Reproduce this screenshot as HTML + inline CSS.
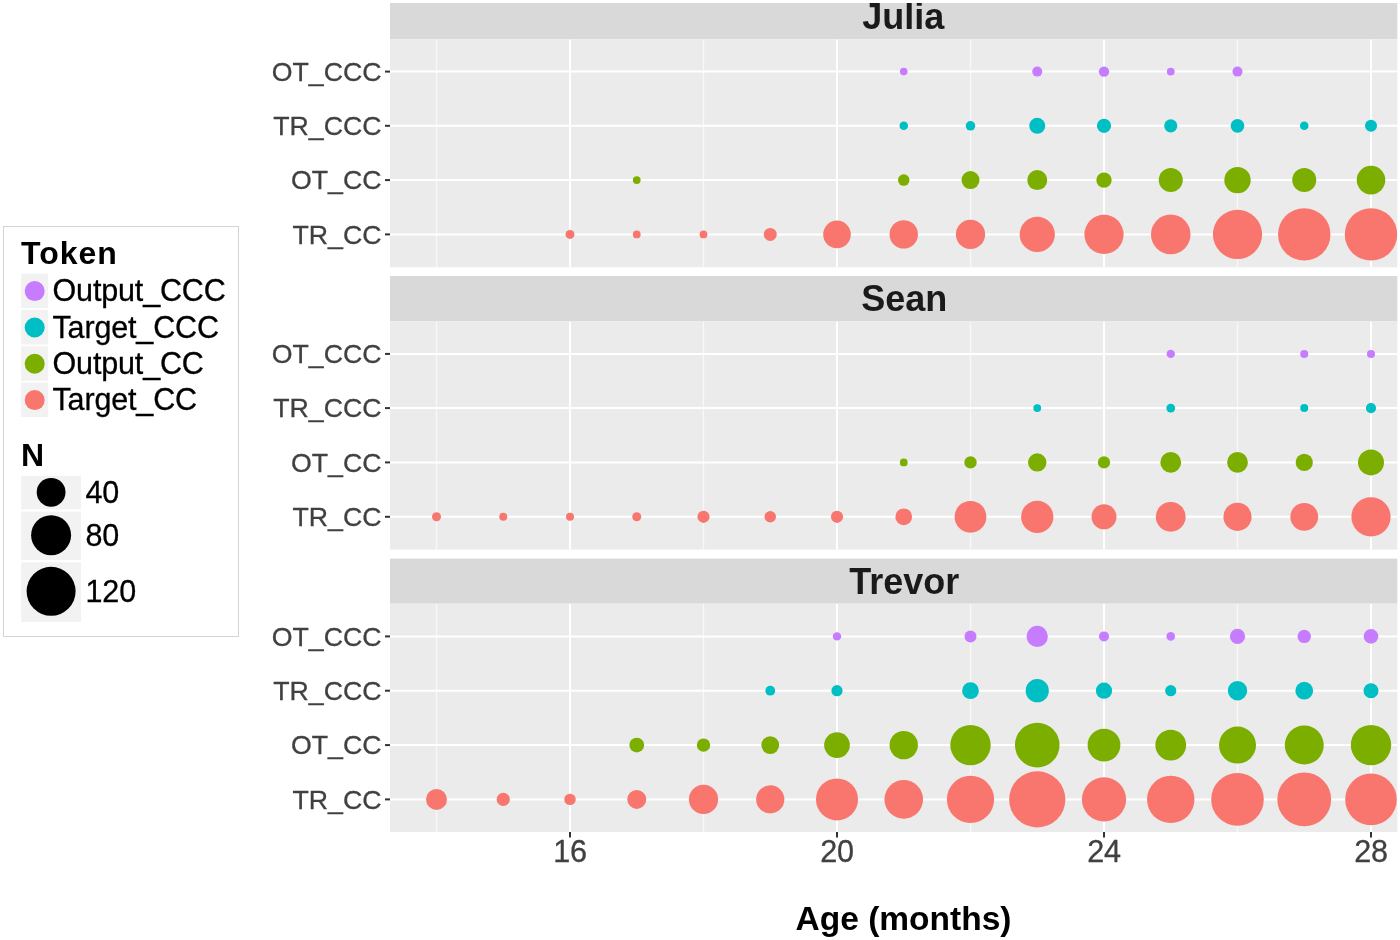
<!DOCTYPE html>
<html><head><meta charset="utf-8"><title>Plot</title>
<style>
html,body{margin:0;padding:0;background:#fff;}
body{width:1400px;height:940px;overflow:hidden;}
svg{display:block;}
text{font-family:"Liberation Sans",Arial,sans-serif;}
.strip{font-size:36px;font-weight:bold;fill:#1a1a1a;}
.ylab{font-size:26.7px;fill:#404040;stroke:#404040;stroke-width:0.3px;}
.xlab{font-size:30.6px;fill:#404040;stroke:#404040;stroke-width:0.3px;letter-spacing:-0.2px;}
.title{font-size:33.5px;font-weight:bold;fill:#000;}
.ltitle{font-size:32px;font-weight:bold;fill:#000;letter-spacing:1px;}
.leg{font-size:30.5px;fill:#000;stroke:#000;stroke-width:0.3px;letter-spacing:-0.15px;}
</style></head><body>
<svg width="1400" height="940" viewBox="0 0 1400 940">
<rect width="1400" height="940" fill="#fff"/>
<defs>
<clipPath id="cp0"><rect x="390.0" y="39.4" width="1007.3" height="227.9"/></clipPath>
<clipPath id="cs0"><rect x="390.0" y="3.0" width="1007.3" height="36.4"/></clipPath>
<clipPath id="cp1"><rect x="390.0" y="321.4" width="1007.3" height="228.2"/></clipPath>
<clipPath id="cs1"><rect x="390.0" y="276.0" width="1007.3" height="45.4"/></clipPath>
<clipPath id="cp2"><rect x="390.0" y="603.7" width="1007.3" height="228.3"/></clipPath>
<clipPath id="cs2"><rect x="390.0" y="558.6" width="1007.3" height="45.1"/></clipPath>
</defs>
<rect x="390.0" y="3.0" width="1007.3" height="36.4" fill="#D9D9D9"/>
<text class="strip" clip-path="url(#cs0)" x="903.3" y="29.4" text-anchor="middle">Julia</text>
<rect x="390.0" y="39.4" width="1007.3" height="227.9" fill="#EBEBEB"/>
<g clip-path="url(#cp0)">
<line x1="436.50" x2="436.50" y1="39.4" y2="267.3" stroke="#F8F8F8" stroke-width="1.3"/>
<line x1="703.50" x2="703.50" y1="39.4" y2="267.3" stroke="#F8F8F8" stroke-width="1.3"/>
<line x1="970.50" x2="970.50" y1="39.4" y2="267.3" stroke="#F8F8F8" stroke-width="1.3"/>
<line x1="1237.50" x2="1237.50" y1="39.4" y2="267.3" stroke="#F8F8F8" stroke-width="1.3"/>
<line x1="570.00" x2="570.00" y1="39.4" y2="267.3" stroke="#fff" stroke-width="2"/>
<line x1="837.00" x2="837.00" y1="39.4" y2="267.3" stroke="#fff" stroke-width="2"/>
<line x1="1104.00" x2="1104.00" y1="39.4" y2="267.3" stroke="#fff" stroke-width="2"/>
<line x1="1371.00" x2="1371.00" y1="39.4" y2="267.3" stroke="#fff" stroke-width="2"/>
<line x1="390.0" x2="1397.3" y1="71.6" y2="71.6" stroke="#fff" stroke-width="2"/>
<line x1="390.0" x2="1397.3" y1="125.8" y2="125.8" stroke="#fff" stroke-width="2"/>
<line x1="390.0" x2="1397.3" y1="180.1" y2="180.1" stroke="#fff" stroke-width="2"/>
<line x1="390.0" x2="1397.3" y1="234.4" y2="234.4" stroke="#fff" stroke-width="2"/>
<circle cx="903.75" cy="71.6" r="3.8" fill="#C77CFF"/>
<circle cx="1037.25" cy="71.6" r="5" fill="#C77CFF"/>
<circle cx="1104.00" cy="71.6" r="5.2" fill="#C77CFF"/>
<circle cx="1170.75" cy="71.6" r="3.9" fill="#C77CFF"/>
<circle cx="1237.50" cy="71.6" r="5" fill="#C77CFF"/>
<circle cx="903.75" cy="125.8" r="4.3" fill="#00BFC4"/>
<circle cx="970.50" cy="125.8" r="4.8" fill="#00BFC4"/>
<circle cx="1037.25" cy="125.8" r="8" fill="#00BFC4"/>
<circle cx="1104.00" cy="125.8" r="7.1" fill="#00BFC4"/>
<circle cx="1170.75" cy="125.8" r="6.6" fill="#00BFC4"/>
<circle cx="1237.50" cy="125.8" r="6.85" fill="#00BFC4"/>
<circle cx="1304.25" cy="125.8" r="4.3" fill="#00BFC4"/>
<circle cx="1371.00" cy="125.8" r="6" fill="#00BFC4"/>
<circle cx="636.75" cy="180.1" r="3.9" fill="#7CAE00"/>
<circle cx="903.75" cy="180.1" r="5.75" fill="#7CAE00"/>
<circle cx="970.50" cy="180.1" r="9" fill="#7CAE00"/>
<circle cx="1037.25" cy="180.1" r="10" fill="#7CAE00"/>
<circle cx="1104.00" cy="180.1" r="7.7" fill="#7CAE00"/>
<circle cx="1170.75" cy="180.1" r="12" fill="#7CAE00"/>
<circle cx="1237.50" cy="180.1" r="13.2" fill="#7CAE00"/>
<circle cx="1304.25" cy="180.1" r="12" fill="#7CAE00"/>
<circle cx="1371.00" cy="180.1" r="14.3" fill="#7CAE00"/>
<circle cx="570.00" cy="234.4" r="4.5" fill="#F8766D"/>
<circle cx="636.75" cy="234.4" r="3.9" fill="#F8766D"/>
<circle cx="703.50" cy="234.4" r="3.9" fill="#F8766D"/>
<circle cx="770.25" cy="234.4" r="6.5" fill="#F8766D"/>
<circle cx="837.00" cy="234.4" r="13.8" fill="#F8766D"/>
<circle cx="903.75" cy="234.4" r="14.2" fill="#F8766D"/>
<circle cx="970.50" cy="234.4" r="14.6" fill="#F8766D"/>
<circle cx="1037.25" cy="234.4" r="17.6" fill="#F8766D"/>
<circle cx="1104.00" cy="234.4" r="19.6" fill="#F8766D"/>
<circle cx="1170.75" cy="234.4" r="19.8" fill="#F8766D"/>
<circle cx="1237.50" cy="234.4" r="24.6" fill="#F8766D"/>
<circle cx="1304.25" cy="234.4" r="26.2" fill="#F8766D"/>
<circle cx="1371.00" cy="234.4" r="26.2" fill="#F8766D"/>
</g>
<line x1="385" x2="390.0" y1="71.6" y2="71.6" stroke="#333" stroke-width="2"/>
<text class="ylab" x="381.5" y="80.9" text-anchor="end">OT_CCC</text>
<line x1="385" x2="390.0" y1="125.8" y2="125.8" stroke="#333" stroke-width="2"/>
<text class="ylab" x="381.5" y="135.1" text-anchor="end">TR_CCC</text>
<line x1="385" x2="390.0" y1="180.1" y2="180.1" stroke="#333" stroke-width="2"/>
<text class="ylab" x="381.5" y="189.4" text-anchor="end">OT_CC</text>
<line x1="385" x2="390.0" y1="234.4" y2="234.4" stroke="#333" stroke-width="2"/>
<text class="ylab" x="381.5" y="243.7" text-anchor="end">TR_CC</text>
<rect x="390.0" y="276.0" width="1007.3" height="45.4" fill="#D9D9D9"/>
<text class="strip" clip-path="url(#cs1)" x="904.2" y="311.4" text-anchor="middle">Sean</text>
<rect x="390.0" y="321.4" width="1007.3" height="228.2" fill="#EBEBEB"/>
<g clip-path="url(#cp1)">
<line x1="436.50" x2="436.50" y1="321.4" y2="549.6" stroke="#F8F8F8" stroke-width="1.3"/>
<line x1="703.50" x2="703.50" y1="321.4" y2="549.6" stroke="#F8F8F8" stroke-width="1.3"/>
<line x1="970.50" x2="970.50" y1="321.4" y2="549.6" stroke="#F8F8F8" stroke-width="1.3"/>
<line x1="1237.50" x2="1237.50" y1="321.4" y2="549.6" stroke="#F8F8F8" stroke-width="1.3"/>
<line x1="570.00" x2="570.00" y1="321.4" y2="549.6" stroke="#fff" stroke-width="2"/>
<line x1="837.00" x2="837.00" y1="321.4" y2="549.6" stroke="#fff" stroke-width="2"/>
<line x1="1104.00" x2="1104.00" y1="321.4" y2="549.6" stroke="#fff" stroke-width="2"/>
<line x1="1371.00" x2="1371.00" y1="321.4" y2="549.6" stroke="#fff" stroke-width="2"/>
<line x1="390.0" x2="1397.3" y1="353.9" y2="353.9" stroke="#fff" stroke-width="2"/>
<line x1="390.0" x2="1397.3" y1="408.1" y2="408.1" stroke="#fff" stroke-width="2"/>
<line x1="390.0" x2="1397.3" y1="462.4" y2="462.4" stroke="#fff" stroke-width="2"/>
<line x1="390.0" x2="1397.3" y1="516.8" y2="516.8" stroke="#fff" stroke-width="2"/>
<circle cx="1170.75" cy="353.9" r="4.2" fill="#C77CFF"/>
<circle cx="1304.25" cy="353.9" r="4" fill="#C77CFF"/>
<circle cx="1371.00" cy="353.9" r="4" fill="#C77CFF"/>
<circle cx="1037.25" cy="408.1" r="3.9" fill="#00BFC4"/>
<circle cx="1170.75" cy="408.1" r="4.4" fill="#00BFC4"/>
<circle cx="1304.25" cy="408.1" r="4" fill="#00BFC4"/>
<circle cx="1371.00" cy="408.1" r="5.1" fill="#00BFC4"/>
<circle cx="903.75" cy="462.4" r="3.9" fill="#7CAE00"/>
<circle cx="970.50" cy="462.4" r="6.2" fill="#7CAE00"/>
<circle cx="1037.25" cy="462.4" r="9.2" fill="#7CAE00"/>
<circle cx="1104.00" cy="462.4" r="6.1" fill="#7CAE00"/>
<circle cx="1170.75" cy="462.4" r="10.4" fill="#7CAE00"/>
<circle cx="1237.50" cy="462.4" r="10.4" fill="#7CAE00"/>
<circle cx="1304.25" cy="462.4" r="8.6" fill="#7CAE00"/>
<circle cx="1371.00" cy="462.4" r="13" fill="#7CAE00"/>
<circle cx="436.50" cy="516.8" r="4.5" fill="#F8766D"/>
<circle cx="503.25" cy="516.8" r="4" fill="#F8766D"/>
<circle cx="570.00" cy="516.8" r="4" fill="#F8766D"/>
<circle cx="636.75" cy="516.8" r="4.5" fill="#F8766D"/>
<circle cx="703.50" cy="516.8" r="6.1" fill="#F8766D"/>
<circle cx="770.25" cy="516.8" r="5.75" fill="#F8766D"/>
<circle cx="837.00" cy="516.8" r="6.1" fill="#F8766D"/>
<circle cx="903.75" cy="516.8" r="8.4" fill="#F8766D"/>
<circle cx="970.50" cy="516.8" r="15.9" fill="#F8766D"/>
<circle cx="1037.25" cy="516.8" r="16.15" fill="#F8766D"/>
<circle cx="1104.00" cy="516.8" r="12.5" fill="#F8766D"/>
<circle cx="1170.75" cy="516.8" r="14.9" fill="#F8766D"/>
<circle cx="1237.50" cy="516.8" r="14.1" fill="#F8766D"/>
<circle cx="1304.25" cy="516.8" r="13.9" fill="#F8766D"/>
<circle cx="1371.00" cy="516.8" r="19.6" fill="#F8766D"/>
</g>
<line x1="385" x2="390.0" y1="353.9" y2="353.9" stroke="#333" stroke-width="2"/>
<text class="ylab" x="381.5" y="363.2" text-anchor="end">OT_CCC</text>
<line x1="385" x2="390.0" y1="408.1" y2="408.1" stroke="#333" stroke-width="2"/>
<text class="ylab" x="381.5" y="417.4" text-anchor="end">TR_CCC</text>
<line x1="385" x2="390.0" y1="462.4" y2="462.4" stroke="#333" stroke-width="2"/>
<text class="ylab" x="381.5" y="471.7" text-anchor="end">OT_CC</text>
<line x1="385" x2="390.0" y1="516.8" y2="516.8" stroke="#333" stroke-width="2"/>
<text class="ylab" x="381.5" y="526.1" text-anchor="end">TR_CC</text>
<rect x="390.0" y="558.6" width="1007.3" height="45.1" fill="#D9D9D9"/>
<text class="strip" clip-path="url(#cs2)" x="904.2" y="593.7" text-anchor="middle">Trevor</text>
<rect x="390.0" y="603.7" width="1007.3" height="228.3" fill="#EBEBEB"/>
<g clip-path="url(#cp2)">
<line x1="436.50" x2="436.50" y1="603.7" y2="832.0" stroke="#F8F8F8" stroke-width="1.3"/>
<line x1="703.50" x2="703.50" y1="603.7" y2="832.0" stroke="#F8F8F8" stroke-width="1.3"/>
<line x1="970.50" x2="970.50" y1="603.7" y2="832.0" stroke="#F8F8F8" stroke-width="1.3"/>
<line x1="1237.50" x2="1237.50" y1="603.7" y2="832.0" stroke="#F8F8F8" stroke-width="1.3"/>
<line x1="570.00" x2="570.00" y1="603.7" y2="832.0" stroke="#fff" stroke-width="2"/>
<line x1="837.00" x2="837.00" y1="603.7" y2="832.0" stroke="#fff" stroke-width="2"/>
<line x1="1104.00" x2="1104.00" y1="603.7" y2="832.0" stroke="#fff" stroke-width="2"/>
<line x1="1371.00" x2="1371.00" y1="603.7" y2="832.0" stroke="#fff" stroke-width="2"/>
<line x1="390.0" x2="1397.3" y1="636.4" y2="636.4" stroke="#fff" stroke-width="2"/>
<line x1="390.0" x2="1397.3" y1="690.7" y2="690.7" stroke="#fff" stroke-width="2"/>
<line x1="390.0" x2="1397.3" y1="745.1" y2="745.1" stroke="#fff" stroke-width="2"/>
<line x1="390.0" x2="1397.3" y1="799.4" y2="799.4" stroke="#fff" stroke-width="2"/>
<circle cx="837.00" cy="636.4" r="4.2" fill="#C77CFF"/>
<circle cx="970.50" cy="636.4" r="6" fill="#C77CFF"/>
<circle cx="1037.25" cy="636.4" r="10.6" fill="#C77CFF"/>
<circle cx="1104.00" cy="636.4" r="5" fill="#C77CFF"/>
<circle cx="1170.75" cy="636.4" r="4.3" fill="#C77CFF"/>
<circle cx="1237.50" cy="636.4" r="7.6" fill="#C77CFF"/>
<circle cx="1304.25" cy="636.4" r="6.7" fill="#C77CFF"/>
<circle cx="1371.00" cy="636.4" r="7.3" fill="#C77CFF"/>
<circle cx="770.25" cy="690.7" r="4.9" fill="#00BFC4"/>
<circle cx="837.00" cy="690.7" r="5.6" fill="#00BFC4"/>
<circle cx="970.50" cy="690.7" r="8.4" fill="#00BFC4"/>
<circle cx="1037.25" cy="690.7" r="11.6" fill="#00BFC4"/>
<circle cx="1104.00" cy="690.7" r="8.1" fill="#00BFC4"/>
<circle cx="1170.75" cy="690.7" r="5.6" fill="#00BFC4"/>
<circle cx="1237.50" cy="690.7" r="9.7" fill="#00BFC4"/>
<circle cx="1304.25" cy="690.7" r="8.9" fill="#00BFC4"/>
<circle cx="1371.00" cy="690.7" r="7.5" fill="#00BFC4"/>
<circle cx="636.75" cy="745.1" r="7.4" fill="#7CAE00"/>
<circle cx="703.50" cy="745.1" r="6.7" fill="#7CAE00"/>
<circle cx="770.25" cy="745.1" r="8.9" fill="#7CAE00"/>
<circle cx="837.00" cy="745.1" r="12.85" fill="#7CAE00"/>
<circle cx="903.75" cy="745.1" r="14.2" fill="#7CAE00"/>
<circle cx="970.50" cy="745.1" r="20.2" fill="#7CAE00"/>
<circle cx="1037.25" cy="745.1" r="22.3" fill="#7CAE00"/>
<circle cx="1104.00" cy="745.1" r="16.4" fill="#7CAE00"/>
<circle cx="1170.75" cy="745.1" r="15.4" fill="#7CAE00"/>
<circle cx="1237.50" cy="745.1" r="18.5" fill="#7CAE00"/>
<circle cx="1304.25" cy="745.1" r="19.5" fill="#7CAE00"/>
<circle cx="1371.00" cy="745.1" r="20.2" fill="#7CAE00"/>
<circle cx="436.50" cy="799.4" r="10.5" fill="#F8766D"/>
<circle cx="503.25" cy="799.4" r="6.6" fill="#F8766D"/>
<circle cx="570.00" cy="799.4" r="5.7" fill="#F8766D"/>
<circle cx="636.75" cy="799.4" r="9.5" fill="#F8766D"/>
<circle cx="703.50" cy="799.4" r="14.6" fill="#F8766D"/>
<circle cx="770.25" cy="799.4" r="14.1" fill="#F8766D"/>
<circle cx="837.00" cy="799.4" r="21" fill="#F8766D"/>
<circle cx="903.75" cy="799.4" r="19.3" fill="#F8766D"/>
<circle cx="970.50" cy="799.4" r="23.6" fill="#F8766D"/>
<circle cx="1037.25" cy="799.4" r="28.1" fill="#F8766D"/>
<circle cx="1104.00" cy="799.4" r="22.1" fill="#F8766D"/>
<circle cx="1170.75" cy="799.4" r="23.7" fill="#F8766D"/>
<circle cx="1237.50" cy="799.4" r="26.3" fill="#F8766D"/>
<circle cx="1304.25" cy="799.4" r="26.9" fill="#F8766D"/>
<circle cx="1371.00" cy="799.4" r="25.8" fill="#F8766D"/>
</g>
<line x1="385" x2="390.0" y1="636.4" y2="636.4" stroke="#333" stroke-width="2"/>
<text class="ylab" x="381.5" y="645.7" text-anchor="end">OT_CCC</text>
<line x1="385" x2="390.0" y1="690.7" y2="690.7" stroke="#333" stroke-width="2"/>
<text class="ylab" x="381.5" y="700.0" text-anchor="end">TR_CCC</text>
<line x1="385" x2="390.0" y1="745.1" y2="745.1" stroke="#333" stroke-width="2"/>
<text class="ylab" x="381.5" y="754.4" text-anchor="end">OT_CC</text>
<line x1="385" x2="390.0" y1="799.4" y2="799.4" stroke="#333" stroke-width="2"/>
<text class="ylab" x="381.5" y="808.7" text-anchor="end">TR_CC</text>
<line x1="570.00" x2="570.00" y1="832.0" y2="837.5" stroke="#333" stroke-width="2"/>
<text class="xlab" x="570.00" y="861.6" text-anchor="middle">16</text>
<line x1="837.00" x2="837.00" y1="832.0" y2="837.5" stroke="#333" stroke-width="2"/>
<text class="xlab" x="837.00" y="861.6" text-anchor="middle">20</text>
<line x1="1104.00" x2="1104.00" y1="832.0" y2="837.5" stroke="#333" stroke-width="2"/>
<text class="xlab" x="1104.00" y="861.6" text-anchor="middle">24</text>
<line x1="1371.00" x2="1371.00" y1="832.0" y2="837.5" stroke="#333" stroke-width="2"/>
<text class="xlab" x="1371.00" y="861.6" text-anchor="middle">28</text>
<text class="title" x="903.5" y="929.5" text-anchor="middle">Age (months)</text>
<rect x="3.5" y="226.5" width="235" height="410" fill="#fff" stroke="#D4D4D4" stroke-width="1"/>
<text class="ltitle" x="21" y="264.2">Token</text>
<rect x="21.2" y="273.6" width="27" height="34.5" fill="#F2F2F2"/>
<circle cx="34.7" cy="291.1" r="10" fill="#C77CFF"/>
<text class="leg" x="52.5" y="301.2">Output_CCC</text>
<rect x="21.2" y="310.0" width="27" height="34.5" fill="#F2F2F2"/>
<circle cx="34.7" cy="327.5" r="10" fill="#00BFC4"/>
<text class="leg" x="52.5" y="337.6">Target_CCC</text>
<rect x="21.2" y="346.3" width="27" height="34.5" fill="#F2F2F2"/>
<circle cx="34.7" cy="363.8" r="10" fill="#7CAE00"/>
<text class="leg" x="52.5" y="373.9">Output_CC</text>
<rect x="21.2" y="382.6" width="27" height="34.5" fill="#F2F2F2"/>
<circle cx="34.7" cy="400.1" r="10" fill="#F8766D"/>
<text class="leg" x="52.5" y="410.2">Target_CC</text>
<text class="ltitle" x="21" y="466">N</text>
<rect x="21.2" y="475.8" width="59.8" height="33.5" fill="#F2F2F2"/>
<circle cx="51.1" cy="492.3" r="14.4" fill="#000"/>
<text class="leg" x="85.5" y="502.9">40</text>
<rect x="21.2" y="511.7" width="59.8" height="48.3" fill="#F2F2F2"/>
<circle cx="51.1" cy="535.2" r="20" fill="#000"/>
<text class="leg" x="85.5" y="545.8">80</text>
<rect x="21.2" y="562.4" width="59.8" height="59.5" fill="#F2F2F2"/>
<circle cx="51.1" cy="591.3" r="24.5" fill="#000"/>
<text class="leg" x="85.5" y="601.9">120</text>
</svg>
</body></html>
